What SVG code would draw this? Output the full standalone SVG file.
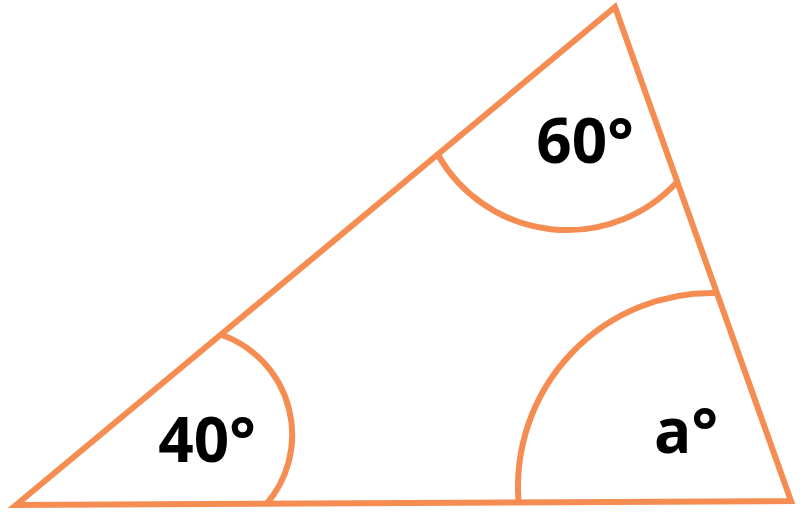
<svg xmlns="http://www.w3.org/2000/svg" width="800" height="512" viewBox="0 0 800 512">
<style>
.ln{fill:none;stroke:#F58C52;stroke-width:6;stroke-linejoin:miter;stroke-miterlimit:10}
.lb{font-family:"Open Sans","Liberation Sans",sans-serif;font-weight:700;font-size:62px;fill:#000;text-anchor:middle}
</style>
<rect width="800" height="512" fill="#fff"/>
<g id="triangle">
<path class="ln" d="M16 505 L615 7 L791 501 Z"/>
</g>
<g id="angle-40">
<path class="ln" d="M222 335 A106 106 0 0 1 265.6 505"/>
<text class="lb" x="207" y="462">40°</text>
</g>
<g id="angle-60">
<path class="ln" d="M438 155 A149 149 0 0 0 677 182"/>
<text class="lb" x="585" y="163">60°</text>
</g>
<g id="angle-a">
<path class="ln" d="M716 293 A194 194 0 0 0 518.5 501"/>
<text class="lb" x="686" y="453">a°</text>
</g>
</svg>
